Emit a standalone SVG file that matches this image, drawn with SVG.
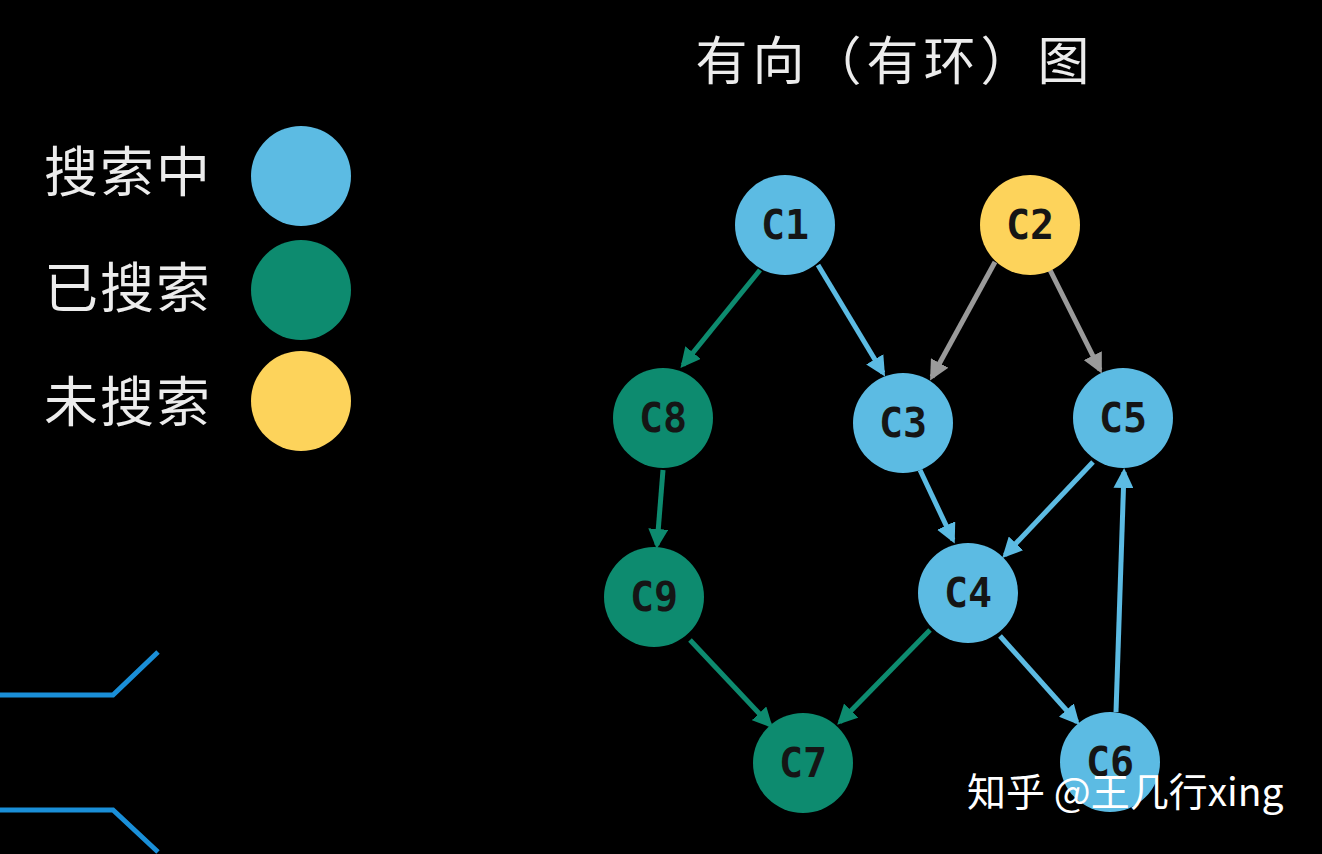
<svg xmlns="http://www.w3.org/2000/svg" width="1322" height="854" viewBox="0 0 1322 854">
<defs>
<style>
.cjk{font-family:"Noto Sans CJK SC","Noto Sans",sans-serif;fill:#ececec}
.lbl{font-family:"DejaVu Sans Mono",monospace;font-size:40px;font-weight:bold;fill:#151515;text-anchor:middle;dominant-baseline:central}
.b{fill:#5cbbe3}.g{fill:#0d8b6f}.y{fill:#fdd35b}
.eb{stroke:#5cbbe3;stroke-width:5;fill:none}
.eg{stroke:#0d8b6f;stroke-width:5;fill:none}
.ey{stroke:#9a9a9a;stroke-width:5;fill:none}
.deco{stroke:#1a8fd8;stroke-width:5;fill:none}
</style>
<marker id="mb" viewBox="0 0 10 10" refX="8" refY="5" markerWidth="4" markerHeight="4" orient="auto" markerUnits="strokeWidth"><path d="M0,0L10,5L0,10z" fill="#5cbbe3"/></marker>
<marker id="mg" viewBox="0 0 10 10" refX="8" refY="5" markerWidth="4" markerHeight="4" orient="auto" markerUnits="strokeWidth"><path d="M0,0L10,5L0,10z" fill="#0d8b6f"/></marker>
<marker id="my" viewBox="0 0 10 10" refX="8" refY="5" markerWidth="4" markerHeight="4" orient="auto" markerUnits="strokeWidth"><path d="M0,0L10,5L0,10z" fill="#9a9a9a"/></marker>
</defs>
<rect width="1322" height="854" fill="#000"/>
<text class="cjk" x="895" y="80" font-size="52" letter-spacing="5" text-anchor="middle">有向（有环）图</text>
<g id="legend">
<text class="cjk" x="44" y="192" font-size="54" letter-spacing="2">搜索中</text>
<text class="cjk" x="44" y="308" font-size="54" letter-spacing="2">已搜索</text>
<text class="cjk" x="44" y="422" font-size="54" letter-spacing="2">未搜索</text>
<circle class="b" cx="301" cy="176" r="50"/>
<circle class="g" cx="301" cy="290" r="50"/>
<circle class="y" cx="301" cy="401" r="50"/>
</g>
<polyline class="deco" points="0,695 113,695 158,652"/>
<polyline class="deco" points="0,810 113,810 158,852"/>
<g id="edges">
<line class="eg" x1="760" y1="270" x2="683" y2="365" marker-end="url(#mg)"/>
<line class="eb" x1="818" y1="265" x2="883" y2="373" marker-end="url(#mb)"/>
<line class="ey" x1="995" y1="262" x2="932" y2="377" marker-end="url(#my)"/>
<line class="ey" x1="1050" y1="270" x2="1100" y2="370" marker-end="url(#my)"/>
<line class="eg" x1="663" y1="470" x2="657" y2="545" marker-end="url(#mg)"/>
<line class="eb" x1="920" y1="470" x2="953" y2="540" marker-end="url(#mb)"/>
<line class="eb" x1="1093" y1="462" x2="1005" y2="555" marker-end="url(#mb)"/>
<line class="eg" x1="690" y1="640" x2="770" y2="725" marker-end="url(#mg)"/>
<line class="eg" x1="930" y1="630" x2="840" y2="722" marker-end="url(#mg)"/>
<line class="eb" x1="1000" y1="636" x2="1077" y2="722" marker-end="url(#mb)"/>
<line class="eb" x1="1116" y1="712" x2="1124" y2="472" marker-end="url(#mb)"/>
</g>
<g id="C1"><circle class="b" cx="785" cy="225" r="50"/><text class="lbl" x="785" y="225">C1</text></g>
<g id="C2"><circle class="y" cx="1030" cy="225" r="50"/><text class="lbl" x="1030" y="225">C2</text></g>
<g id="C8"><circle class="g" cx="663" cy="418" r="50"/><text class="lbl" x="663" y="418">C8</text></g>
<g id="C3"><circle class="b" cx="903" cy="423" r="50"/><text class="lbl" x="903" y="423">C3</text></g>
<g id="C5"><circle class="b" cx="1123" cy="418" r="50"/><text class="lbl" x="1123" y="418">C5</text></g>
<g id="C9"><circle class="g" cx="654" cy="597" r="50"/><text class="lbl" x="654" y="597">C9</text></g>
<g id="C4"><circle class="b" cx="968" cy="593" r="50"/><text class="lbl" x="968" y="593">C4</text></g>
<g id="C7"><circle class="g" cx="803" cy="763" r="50"/><text class="lbl" x="803" y="763">C7</text></g>
<g id="C6"><circle class="b" cx="1110" cy="762" r="50"/><text class="lbl" x="1110" y="762">C6</text></g>
<text x="967" y="806" font-size="39" fill="#fff" font-family="Noto Sans CJK SC,Noto Sans,sans-serif">知乎 @王几行xing</text>
</svg>
